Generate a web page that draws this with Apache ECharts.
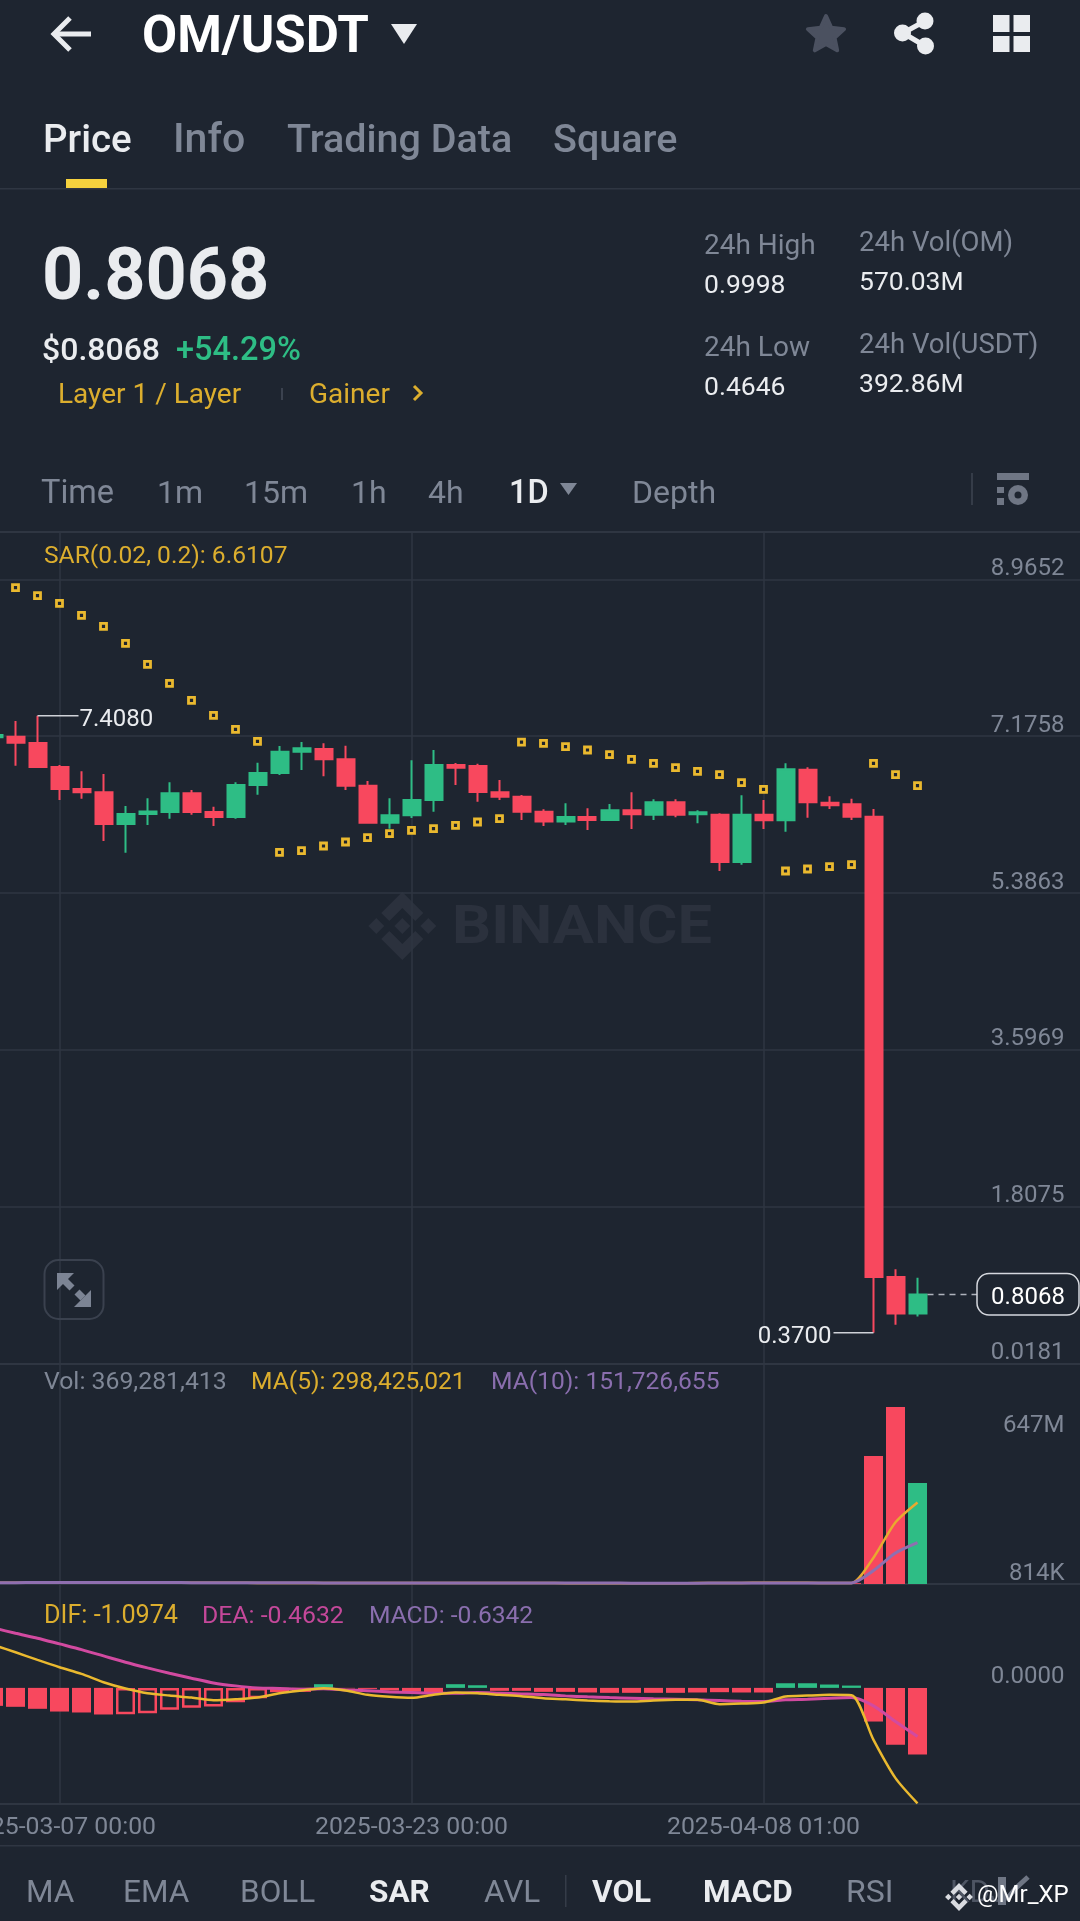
<!DOCTYPE html>
<html>
<head>
<meta charset="utf-8">
<style>html,body{margin:0;padding:0;background:#1e2530}#c{width:1080px;height:1921px}</style>
<script src="https://cdn.jsdelivr.net/npm/echarts@6/dist/echarts.min.js"></script>
</head>
<body>
<div id="c"></div>
<script>
const categories = ['2025-03-04 00:00','2025-03-05 00:00','2025-03-06 00:00','2025-03-07 00:00','2025-03-08 00:00','2025-03-09 00:00','2025-03-10 00:00','2025-03-11 00:00','2025-03-12 00:00','2025-03-13 00:00','2025-03-14 00:00','2025-03-15 00:00','2025-03-16 00:00','2025-03-17 00:00','2025-03-18 00:00','2025-03-19 00:00','2025-03-20 00:00','2025-03-21 00:00','2025-03-22 00:00','2025-03-23 00:00','2025-03-24 00:00','2025-03-25 00:00','2025-03-26 00:00','2025-03-27 00:00','2025-03-28 00:00','2025-03-29 00:00','2025-03-30 01:00','2025-03-31 01:00','2025-04-01 01:00','2025-04-02 01:00','2025-04-03 01:00','2025-04-04 01:00','2025-04-05 01:00','2025-04-06 01:00','2025-04-07 01:00','2025-04-08 01:00','2025-04-09 01:00','2025-04-10 01:00','2025-04-11 01:00','2025-04-12 01:00','2025-04-13 01:00','2025-04-14 01:00','2025-04-15 01:00','2025-04-16 01:00','2025-04-17 01:00','2025-04-18 01:00','2025-04-19 01:00','2025-04-20 01:00','2025-04-21 01:00','2025-04-22 01:00'];
const shownDates = ['2025-03-07 00:00','2025-03-23 00:00','2025-04-08 01:00'];

const opens  = [7.163,7.170,7.098,6.824,6.573,6.535,6.174,6.288,6.311,6.524,6.311,6.254,6.619,6.756,6.999,7.030,6.912,6.611,6.189,6.273,6.448,6.847,6.836,6.535,6.486,6.315,6.204,6.254,6.220,6.330,6.280,6.421,6.284,6.280,5.741,6.280,6.216,6.794,6.417,6.398,6.258,1.007,0.592];
const closes = [7.189,7.102,6.824,6.573,6.535,6.174,6.288,6.318,6.524,6.311,6.254,6.619,6.756,6.999,7.037,6.912,6.611,6.189,6.273,6.448,6.847,6.817,6.539,6.486,6.315,6.204,6.254,6.220,6.330,6.284,6.421,6.280,6.307,5.741,6.280,6.216,6.798,6.421,6.387,6.258,1.007,0.592,0.8068];
const lows   = [7.100,6.839,6.817,6.448,6.463,5.980,5.847,6.163,6.235,6.280,6.151,6.235,6.509,6.733,6.790,6.718,6.562,6.178,6.121,6.242,6.315,6.619,6.429,6.448,6.220,6.151,6.163,6.106,6.212,6.117,6.220,6.250,6.182,5.638,5.710,6.117,6.087,6.246,6.345,6.220,0.370,0.463,0.5575];
const highs  = [7.250,7.349,7.408,6.847,6.775,6.744,6.379,6.467,6.649,6.562,6.372,6.649,6.874,7.064,7.109,7.094,7.068,6.664,6.467,6.900,7.018,6.870,6.862,6.676,6.505,6.341,6.410,6.353,6.402,6.535,6.455,6.455,6.330,6.296,6.501,6.448,6.866,6.820,6.490,6.463,6.345,1.094,0.9998];
const sarValues = [null,8.870,8.779,8.691,8.554,8.429,8.235,7.995,7.779,7.585,7.414,7.254,7.117,5.851,5.870,5.923,5.969,6.018,6.064,6.102,6.121,6.159,6.197,6.235,7.109,7.094,7.056,7.018,6.965,6.912,6.866,6.817,6.775,6.737,6.645,6.569,5.638,5.661,5.687,5.710,6.866,6.737,6.6107];

const volumes = [5.1,6.2,7.4,5.8,4.9,6.6,7.1,5.2,4.6,5.5,4.3,3.9,4.8,5.3,4.4,3.6,4.2,5.7,3.8,3.5,4.9,5.1,4.2,3.7,4.6,3.4,3.2,3.9,3.6,4.4,3.3,3.7,5.8,6.1,4.5,5.9,5.2,3.9,3.9,3.9,468,647,369.281413];
const volMA5  = [5.6,5.7,5.9,6.0,5.9,6.2,6.3,6.0,5.7,5.7,5.3,5.0,4.9,4.7,4.6,4.5,4.4,4.5,4.2,4.2,4.4,4.5,4.3,4.1,4.5,4.2,3.9,4.0,3.7,3.8,3.7,3.7,4.2,4.6,4.9,5.2,5.4,5.0,4.6,4.4,97,226,298.425021];
const volMA10 = [5.8,5.8,5.9,5.9,6.0,6.0,6.1,6.1,5.9,5.8,5.7,5.5,5.4,5.2,5.0,4.9,4.8,4.7,4.6,4.4,4.5,4.5,4.4,4.3,4.4,4.3,4.2,4.1,4.1,4.0,3.9,3.9,4.0,4.3,4.4,4.4,4.6,4.6,4.7,4.7,50,114,151.726655];

const macdDIF  = [0.408,0.339,0.266,0.196,0.133,0.054,-0.006,-0.051,-0.073,-0.092,-0.117,-0.108,-0.092,-0.051,-0.025,-0.003,-0.025,-0.066,-0.085,-0.095,-0.066,-0.044,-0.051,-0.066,-0.079,-0.098,-0.108,-0.120,-0.127,-0.130,-0.120,-0.114,-0.114,-0.155,-0.149,-0.139,-0.082,-0.073,-0.066,-0.070,-0.494,-0.858,-1.0974];
const macdDEA  = [0.570,0.519,0.472,0.418,0.364,0.304,0.244,0.190,0.139,0.092,0.047,0.019,0.000,-0.006,-0.013,-0.009,-0.019,-0.028,-0.038,-0.044,-0.051,-0.051,-0.044,-0.051,-0.057,-0.063,-0.076,-0.085,-0.092,-0.098,-0.104,-0.108,-0.114,-0.120,-0.127,-0.130,-0.114,-0.108,-0.098,-0.092,-0.171,-0.320,-0.4632];
const macdHist = [-0.171,-0.180,-0.199,-0.225,-0.234,-0.253,-0.250,-0.241,-0.209,-0.190,-0.177,-0.136,-0.098,-0.041,-0.038,0.035,-0.005,-0.010,-0.025,-0.035,-0.050,0.035,0.025,-0.028,-0.028,-0.038,-0.038,-0.044,-0.047,-0.047,-0.047,-0.047,-0.044,-0.041,-0.044,-0.044,0.044,0.044,0.032,0.022,-0.320,-0.541,-0.6342];

const priceTicks = [8.9652,7.1758,5.3863,3.5969,1.8075,0.0181];
const volTicks = [0.814,647];
const macdTicks = [0];
const priceExtremes = [[2,7.4080,'7.4080'],[40,0.3700,'0.3700']];
const lastPrice = [[42,0.8068,'0.8068']];

const BG='#1e2530', RED='#f8485e', GREEN='#2ebd85', GRID='#2f3642', GREY='#7f8796', WHITE='#eaecef', GOLD='#dcae2e', SAR='#eab92f';
const FONT='Roboto, sans-serif';

function t(text,x,y,size,fill,weight,align){
  return {type:'text',silent:true,z:10,style:{text,x,y:y+3,fill,font:(weight||400)+' '+size+'px '+FONT,textAlign:align||'left',textVerticalAlign:'middle'}};
}
function poly(points,fill,z){return {type:'polygon',silent:true,z:z==null?10:z,shape:{points},style:{fill}};}
function strokeLine(pts,stroke,w,z){return {type:'polyline',silent:true,z:z==null?10:z,shape:{points:pts},style:{stroke,lineWidth:w,fill:null,lineCap:'butt',lineJoin:'miter'}};}
function rect(x,y,w,h,fill,r){return {type:'rect',silent:true,z:10,shape:{x,y,width:w,height:h,r:r||0},style:{fill}};}
function circ(cx,cy,r,fill){return {type:'circle',silent:true,z:10,shape:{cx,cy,r},style:{fill}};}
function logo(cx,cy,s,fill,z){
  const P=a=>a.map(p=>[cx+p[0]*s,cy+p[1]*s]);
  return [
    poly(P([[0,-34],[21,-13],[13,-5],[0,-18],[-13,-5],[-21,-13]]),fill,z),
    poly(P([[0,34],[21,13],[13,5],[0,18],[-13,5],[-21,13]]),fill,z),
    poly(P([[0,-8],[8,0],[0,8],[-8,0]]),fill,z),
    poly(P([[-26,-8],[-18,0],[-26,8],[-34,0]]),fill,z),
    poly(P([[26,-8],[34,0],[26,8],[18,0]]),fill,z)
  ];
}
function star(cx,cy,R,r){const a=[];for(let i=0;i<10;i++){const q=-Math.PI/2+i*Math.PI/5,d=i%2?r:R;a.push([cx+d*Math.cos(q),cy+d*Math.sin(q)]);}return a;}

const chrome = [
  strokeLine([[91,34],[54,34]],WHITE,5), strokeLine([[70,18],[54,34],[70,50]],WHITE,5),
  t('OM/USDT',142,36,51,'#ffffff',700),
  poly([[391,24],[417,24],[404,44]],WHITE),
  {type:'polygon',silent:true,z:10,shape:{points:star(826,35,19,9)},style:{fill:'#4b5160',stroke:'#4b5160',lineWidth:4,lineJoin:'round'}},
  strokeLine([[925,21],[903,33],[925,46]],WHITE,5), circ(925,21,8.5,WHITE), circ(902.5,33,8.5,WHITE), circ(925.5,46,8.5,WHITE),
  rect(993,15,16.5,17,WHITE), rect(1013.5,15,16.5,17,WHITE), rect(993,36,16.5,16,WHITE), rect(1013.5,36,16.5,16,WHITE),
  t('Price',43,139,38.5,WHITE,500), t('Info',173,139,41,GREY,500), t('Trading Data',287,139,39.5,GREY,500), t('Square',553,139,39.5,GREY,500),
  rect(66,179,41,9,'#f6d23e'), rect(0,188,1080,1.5,GRID),
  t('0.8068',42,278,72,WHITE,700),
  t('$0.8068',42,349,32,WHITE,500), t('+54.29%',176,349,32.5,GREEN,500),
  t('Layer 1 / Layer',58,393,28,GOLD,400), rect(281,388,2,12,'#3b424f'), t('Gainer',309,393,28,GOLD,400),
  strokeLine([[414,386],[421,393],[414,400]],GOLD,3),
  t('24h High',704,244,28,GREY), t('0.9998',704,283,26.5,WHITE), t('24h Low',704,346,28,GREY), t('0.4646',704,385,26.5,WHITE),
  t('24h Vol(OM)',859,241,27.5,GREY), t('570.03M',859,280,26.5,WHITE), t('24h Vol(USDT)',859,343,27.5,GREY), t('392.86M',859,382,26.5,WHITE),
  t('Time',41,492,32.5,GREY), t('1m',157,492,32,GREY), t('15m',244,492,32,GREY), t('1h',351,492,32,GREY), t('4h',428,492,32,GREY),
  t('1D',509,492,32.5,WHITE,500), poly([[560,483],[577,483],[568.5,495]],GREY), t('Depth',632,492,32,GREY),
  rect(971,473,2,32,'#353c48'), rect(997,473,32,7,'#6f7684'), rect(997,487,7,6,'#6f7684'), rect(997,498,7,7,'#6f7684'),
  circ(1018,495,10,'#6f7684'), circ(1018,495,3.5,BG), rect(0,531,1080,2,GRID),
  t('SAR(0.02, 0.2): 6.6107',44,554,24.6,GOLD),
  t('Vol: 369,281,413',44,1380,24.8,GREY), t('MA(5): 298,425,021',251,1380,24.6,GOLD), t('MA(10): 151,726,655',491,1380,24.6,'#8a6eae'),
  t('DIF: -1.0974',44,1614,25.2,GOLD), t('DEA: -0.4632',202,1614,24.8,'#c4489a'), t('MACD: -0.6342',369,1614,24.6,'#8a6eae'),
  {type:'rect',silent:true,z:10,shape:{x:44.5,y:1260,width:59,height:59,r:14},style:{fill:null,stroke:'#3a414e',lineWidth:2}},
  poly([[57,1273],[74,1273],[57,1290]],'#7c8494'), poly([[91,1290],[91,1307],[74,1307]],'#7c8494'),
  strokeLine([[65,1281],[72,1288]],'#7c8494',7), strokeLine([[77,1292],[83,1298]],'#7c8494',7),
  rect(0,1845,1080,1.5,GRID),
  t('MA',26,1891,31.5,GREY), t('EMA',123,1891,31.5,GREY), t('BOLL',240,1891,31.5,GREY), t('SAR',369,1891,31.5,WHITE,700), t('AVL',484,1891,31.5,GREY),
  rect(565,1875,1.5,32,'#353c48'), t('VOL',592,1891,31.5,WHITE,700), t('MACD',703,1891,31.5,WHITE,700), t('RSI',846,1891,32,GREY),
  t('KDJ',950,1891,31,'#4e5563'),
  rect(998,1877,8,28,'#6f7684'), strokeLine([[1006,1900],[1016,1888],[1028,1877]],'#6f7684',5),
  t('@Mr_XP',977,1893,24,'#ffffff'),
  {type:'text',silent:true,z:-1,x:452,y:930,scaleX:1.157,style:{text:'BINANCE',x:0,y:0,fill:'#2b313d',font:'700 53px '+FONT,textAlign:'left',textVerticalAlign:'middle'}}
].concat(logo(402.3,926,1,'#2b313d',-1), logo(959,1897,0.41,'#d9dbe0',11));

const n = categories.length;
const gridCommon = {left:-17.5, width:22*n, outerBoundsMode:'none', containLabel:false};
const xAxisCommon = {
  type:'category', data:categories, boundaryGap:true,
  axisLine:{show:true,onZero:false,lineStyle:{color:GRID,width:2}}, axisTick:{show:false}, axisLabel:{show:false},
  splitLine:{show:true,alignWithLabel:true,lineStyle:{color:GRID,width:1.5},interval:(i,v)=>shownDates.includes(v)}
};
function yAxisOf(gridIndex,min,max,ticks,fmt,splitShow){
  return {
    type:'value',gridIndex,position:'right',min,max,scale:true,
    axisLine:{show:false},axisTick:{show:false,customValues:ticks},
    splitLine:{show:splitShow,lineStyle:{color:GRID,width:1.5}},
    axisLabel:{inside:true,margin:18,customValues:ticks,color:GREY,fontFamily:FONT,fontSize:24,showMinLabel:true,showMaxLabel:true,formatter:fmt,
      rich:{up:{color:GREY,fontFamily:FONT,fontSize:24,padding:[0,0,21,0]},down:{color:GREY,fontFamily:FONT,fontSize:24,padding:[39,0,0,0]}}}
  };
}

const candleData = opens.map((o,i)=>[o,closes[i],lows[i],highs[i]]);

const option = {
  backgroundColor:BG, animation:false,
  graphic:{elements:chrome},
  grid:[
    Object.assign({top:532,height:831.7},gridCommon),
    Object.assign({top:1363.7,height:220.3},gridCommon),
    Object.assign({top:1584,height:219.3},gridCommon)
  ],
  xAxis:[
    Object.assign({},xAxisCommon,{gridIndex:0}),
    Object.assign({},xAxisCommon,{gridIndex:1}),
    Object.assign({},xAxisCommon,{gridIndex:2,axisLabel:{show:true,interval:(i,v)=>shownDates.includes(v),color:GREY,fontFamily:FONT,fontSize:24.8,margin:12,hideOverlap:false}})
  ],
  yAxis:[
    yAxisOf(0,0.0181,9.5047,priceTicks,v=>'{up|'+v.toFixed(4)+'}',true),
    yAxisOf(1,0.814,805,volTicks,v=>v<1?'{up|814K}':'{down|647M}',false),
    yAxisOf(2,-1.0974,0.9877,macdTicks,v=>'{up|'+v.toFixed(4)+'}',false)
  ],
  series:[
    {name:'OM/USDT',type:'candlestick',xAxisIndex:0,yAxisIndex:0,data:candleData,barWidth:17.5,
      itemStyle:{color:GREEN,color0:RED,borderColor:GREEN,borderColor0:RED,borderWidth:2}},
    {name:'SAR',type:'scatter',xAxisIndex:0,yAxisIndex:0,data:sarValues,symbol:'rect',symbolSize:6,z:5,
      itemStyle:{color:'#20242c',borderColor:SAR,borderWidth:2.8,opacity:1}},
    {name:'Extremes',type:'custom',xAxisIndex:0,yAxisIndex:0,data:priceExtremes,encode:{x:0,y:1},z:6,
      renderItem(params,api){
        const p=api.coord([api.value(0),api.value(1)]), txt=priceExtremes[params.dataIndex][2], right=params.dataIndex===0;
        const x2=right?p[0]+41:p[0]-40;
        return {type:'group',children:[
          {type:'line',shape:{x1:p[0],y1:p[1],x2,y2:p[1]},style:{stroke:'#cfd2d8',lineWidth:1.5}},
          {type:'text',style:{text:txt,x:right?x2+1:x2-2,y:p[1]+4,fill:WHITE,font:'400 24px '+FONT,textAlign:right?'left':'right',textVerticalAlign:'middle'}}
        ]};
      }},
    {name:'Last',type:'custom',xAxisIndex:0,yAxisIndex:0,data:lastPrice,encode:{x:0,y:1},z:6,
      renderItem(params,api){
        const p=api.coord([api.value(0),api.value(1)]);
        return {type:'group',children:[
          {type:'line',shape:{x1:p[0]+10,y1:p[1],x2:977,y2:p[1]},style:{stroke:'#aeb3bc',lineWidth:1.5,lineDash:[6,5]}},
          {type:'rect',shape:{x:977,y:p[1]-21,width:102,height:41.5,r:12},style:{fill:BG,stroke:'#d5d8de',lineWidth:1.5}},
          {type:'text',style:{text:lastPrice[0][2],x:1028,y:p[1]+3,fill:'#ffffff',font:'400 24px '+FONT,textAlign:'center',textVerticalAlign:'middle'}}
        ]};
      }},
    {name:'Vol',type:'bar',xAxisIndex:1,yAxisIndex:1,barWidth:19,
      data:volumes.map((v,i)=>({value:v,itemStyle:{color:closes[i]>=opens[i]?GREEN:RED}}))},
    {name:'MA5',type:'line',xAxisIndex:1,yAxisIndex:1,data:volMA5,smooth:0.25,symbol:'none',z:4,lineStyle:{color:'#e9a92f',width:2.5}},
    {name:'MA10',type:'line',xAxisIndex:1,yAxisIndex:1,data:volMA10,smooth:0.25,symbol:'none',z:4,lineStyle:{color:'#8f6fb0',width:3}},
    {name:'MACD',type:'bar',xAxisIndex:2,yAxisIndex:2,barWidth:19,
      data:macdHist.map((v,i)=>{
        const c=v>=0?GREEN:RED, hollow=v<-0.06&&i>0&&v>macdHist[i-1];
        return {value:v,itemStyle:hollow?{color:'rgba(0,0,0,0)',borderColor:c,borderWidth:2.5}:{color:c}};
      })},
    {name:'DEA',type:'line',xAxisIndex:2,yAxisIndex:2,data:macdDEA,smooth:0.25,symbol:'none',z:4,lineStyle:{color:'#d24aa0',width:3}},
    {name:'DIF',type:'line',xAxisIndex:2,yAxisIndex:2,data:macdDIF,smooth:0.25,symbol:'none',z:5,lineStyle:{color:'#eab92f',width:2.5}}
  ]
};
const chart = echarts.init(document.getElementById('c'),null,{renderer:'canvas',width:1080,height:1921});
chart.setOption(option);
</script>
</body>
</html>
